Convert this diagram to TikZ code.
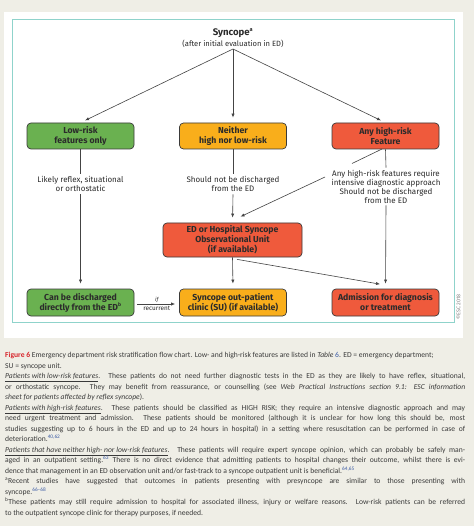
\documentclass[tikz,border=0pt]{standalone}
\usepackage{fontspec}
\setmainfont{Carlito}
\newfontfamily\fc{Fira Sans}
\usetikzlibrary{arrows.meta}
\definecolor{bgbeige}{HTML}{EFEEE6}
\definecolor{tealframe}{HTML}{8FD3CB}
\definecolor{boxline}{HTML}{3A3A3A}
\definecolor{linec}{HTML}{444444}
\definecolor{textdark}{HTML}{2B2B2B}
\definecolor{captext}{HTML}{3A3A3A}
\definecolor{figred}{HTML}{D7262C}
\definecolor{refblue}{HTML}{3B5BA5}
\definecolor{boxgreen}{HTML}{6AB150}
\definecolor{boxorange}{HTML}{F9AE1B}
\definecolor{boxred}{HTML}{EF5A3C}
\newcommand\JL[1]{\hbox to 460pt{#1}}
\newcommand\NL[1]{\hbox{#1}}
\newcommand\rf[1]{\textsuperscript{\textcolor{refblue}{#1}}}
\tikzset{
  box/.style={draw=boxline, line width=0.7pt, rounded corners=4pt,
    minimum width=107pt, minimum height=26pt, align=center, inner sep=1pt,
    text=textdark, font=\fc\bfseries\fontsize{8.7}{10}\selectfont},
  lbl/.style={align=center, inner sep=2pt, text=textdark,
    font=\fc\fontsize{8}{9.8}\selectfont},
  conn/.style={draw=linec, line width=0.6pt},
  arr/.style={conn, -{Latex[length=4pt,width=3.2pt]}, shorten >=5pt}
}
\begin{document}
\begin{tikzpicture}[x=1pt,y=-1pt]
\useasboundingbox (0,0) rectangle (474,526);
\fill[bgbeige] (0,0) rectangle (474,526);
\fill[white] (4,12) rectangle (463,338);
\draw[tealframe, line width=0.8pt] (12,19) rectangle (454,322);

% title
\node[align=center, inner sep=0pt, text=textdark] (syn) at (233,38)
  {{\fc\bfseries\fontsize{9.6}{10}\selectfont Syncope\textsuperscript{\fontsize{5.5}{5.5}\selectfont a}}\\[-1.5pt]
   {\fc\fontsize{7.6}{8}\selectfont (after initial evaluation in ED)}};
\coordinate (s0) at (233,49);

% first row boxes
\node[box, fill=boxgreen] (low) at (80.5,136) {Low-risk\\features only};
\node[box, fill=boxorange] (nei) at (233,136) {Neither\\high nor low-risk};
\node[box, fill=boxred] (high) at (385.5,136) {Any high-risk\\Feature};

% middle box
\node[box, fill=boxred, minimum width=139pt, minimum height=34pt] (edu) at (232.5,240)
  {ED or Hospital Syncope\\Observational Unit\\(if available)};

% bottom boxes
\node[box, fill=boxgreen, minimum height=27pt] (dis) at (80.5,302.5)
  {Can be discharged\\directly from the ED\textsuperscript{\fontsize{5}{5}\selectfont b}};
\node[box, fill=boxorange, minimum height=27pt] (clin) at (233,302.5)
  {Syncope out-patient\\clinic (SU) (if available)};
\node[box, fill=boxred, minimum height=27pt] (adm) at (385.5,302.5)
  {Admission for diagnosis\\or treatment};

% text labels
\node[lbl] (t1) at (80.5,184) {Likely reflex, situational\\or orthostatic};
\node[lbl] (t2) at (233,184) {Should not be discharged\\from the ED};
\node[lbl, font=\fc\fontsize{8}{9}\selectfont] (t3) at (386,186.5)
  {Any high-risk features require\\intensive diagnostic approach\\Should not be discharged\\from the ED};

% connectors from syncope
\draw[arr] (s0) -- (low.north);
\draw[arr] (s0) -- (nei.north);
\draw[arr] (s0) -- (high.north);

% verticals
\draw[conn] (low.south) -- (t1.north);
\draw[arr] (t1.south) -- (dis.north);
\draw[conn] (nei.south) -- (t2.north);
\draw[arr] (t2.south) -- (edu.north);
\draw[conn] (high.south) -- (t3.north);
\draw[arr] (t3.south) -- (adm.north);

% diagonal from high-risk to ED unit
\coordinate (d1) at (382,149);
\coordinate (d2) at (352,163.5);
\coordinate (d3) at (325,177);
\draw[conn] (d1) -- (d2);
\draw[conn, -{Latex[length=4pt,width=3.2pt]}] (d3) -- ([xshift=8pt,yshift=6pt]edu.north);

% from ED unit
\draw[arr] (edu.south) -- (clin.north);
\draw[conn, -{Latex[length=4pt,width=3.2pt]}] ([xshift=4.5pt,yshift=-2pt]edu.south) -- ([xshift=-5.5pt,yshift=4.5pt]adm.north);

% if recurrent
\draw[conn, -{Latex[length=4pt,width=3.2pt]}, shorten <=3pt, shorten >=4pt] ([yshift=-1.5pt]dis.east) -- ([yshift=-1.5pt]clin.west)
  node[midway, above=0.5pt, inner sep=1pt, font=\fc\itshape\fontsize{5.5}{6}\selectfont, text=textdark] (iflbl) {if}
  node[midway, below=1pt, inner sep=1pt, font=\fc\fontsize{6.4}{7}\selectfont, text=textdark] (reclbl) {recurrent};

% copyright
\node[rotate=90, inner sep=0pt, font=\fc\fontsize{5.4}{6}\selectfont, text=gray] (esc) at (458.5,307) {\textcopyright ESC 2018};

% caption
\node[anchor=north west, inner sep=0pt, text=captext] (cap) at (5,352) {\vbox{\fontsize{7.6}{10.5}\selectfont
\NL{\textcolor{figred}{\textbf{Figure 6}} Emergency department risk stratification flow chart. Low- and high-risk features are listed in \textit{Table} \textcolor{refblue}{6}. ED = emergency department;}
\NL{SU = syncope unit.}
\JL{\underline{\textit{Patients with low-risk features}}. These patients do not need further diagnostic tests in the ED as they are likely to have reflex, situational,}
\JL{or orthostatic syncope. They may benefit from reassurance, or counselling (see \textit{Web Practical Instructions section 9.1: ESC information}}
\NL{\textit{sheet for patients affected by reflex syncope}).}
\JL{\underline{\textit{Patients with high-risk features}}. These patients should be classified as HIGH RISK; they require an intensive diagnostic approach and may}
\JL{need urgent treatment and admission. These patients should be monitored (although it is unclear for how long this should be, most}
\JL{studies suggesting up to 6 hours in the ED and up to 24 hours in hospital) in a setting where resuscitation can be performed in case of}
\NL{deterioration.\rf{40,62}}
\JL{\underline{\textit{Patients that have neither high- nor low-risk features}}. These patients will require expert syncope opinion, which can probably be safely man-}
\JL{aged in an outpatient setting.\rf{63} There is no direct evidence that admitting patients to hospital changes their outcome, whilst there is evi-}
\NL{dence that management in an ED observation unit and/or fast-track to a syncope outpatient unit is beneficial.\rf{64,65}}
\JL{\textsuperscript{a}Recent studies have suggested that outcomes in patients presenting with presyncope are similar to those presenting with}
\NL{syncope.\rf{66--68}}
\JL{\textsuperscript{b}These patients may still require admission to hospital for associated illness, injury or welfare reasons. Low-risk patients can be referred}
\NL{to the outpatient syncope clinic for therapy purposes, if needed.}
}};
\end{tikzpicture}
\end{document}
